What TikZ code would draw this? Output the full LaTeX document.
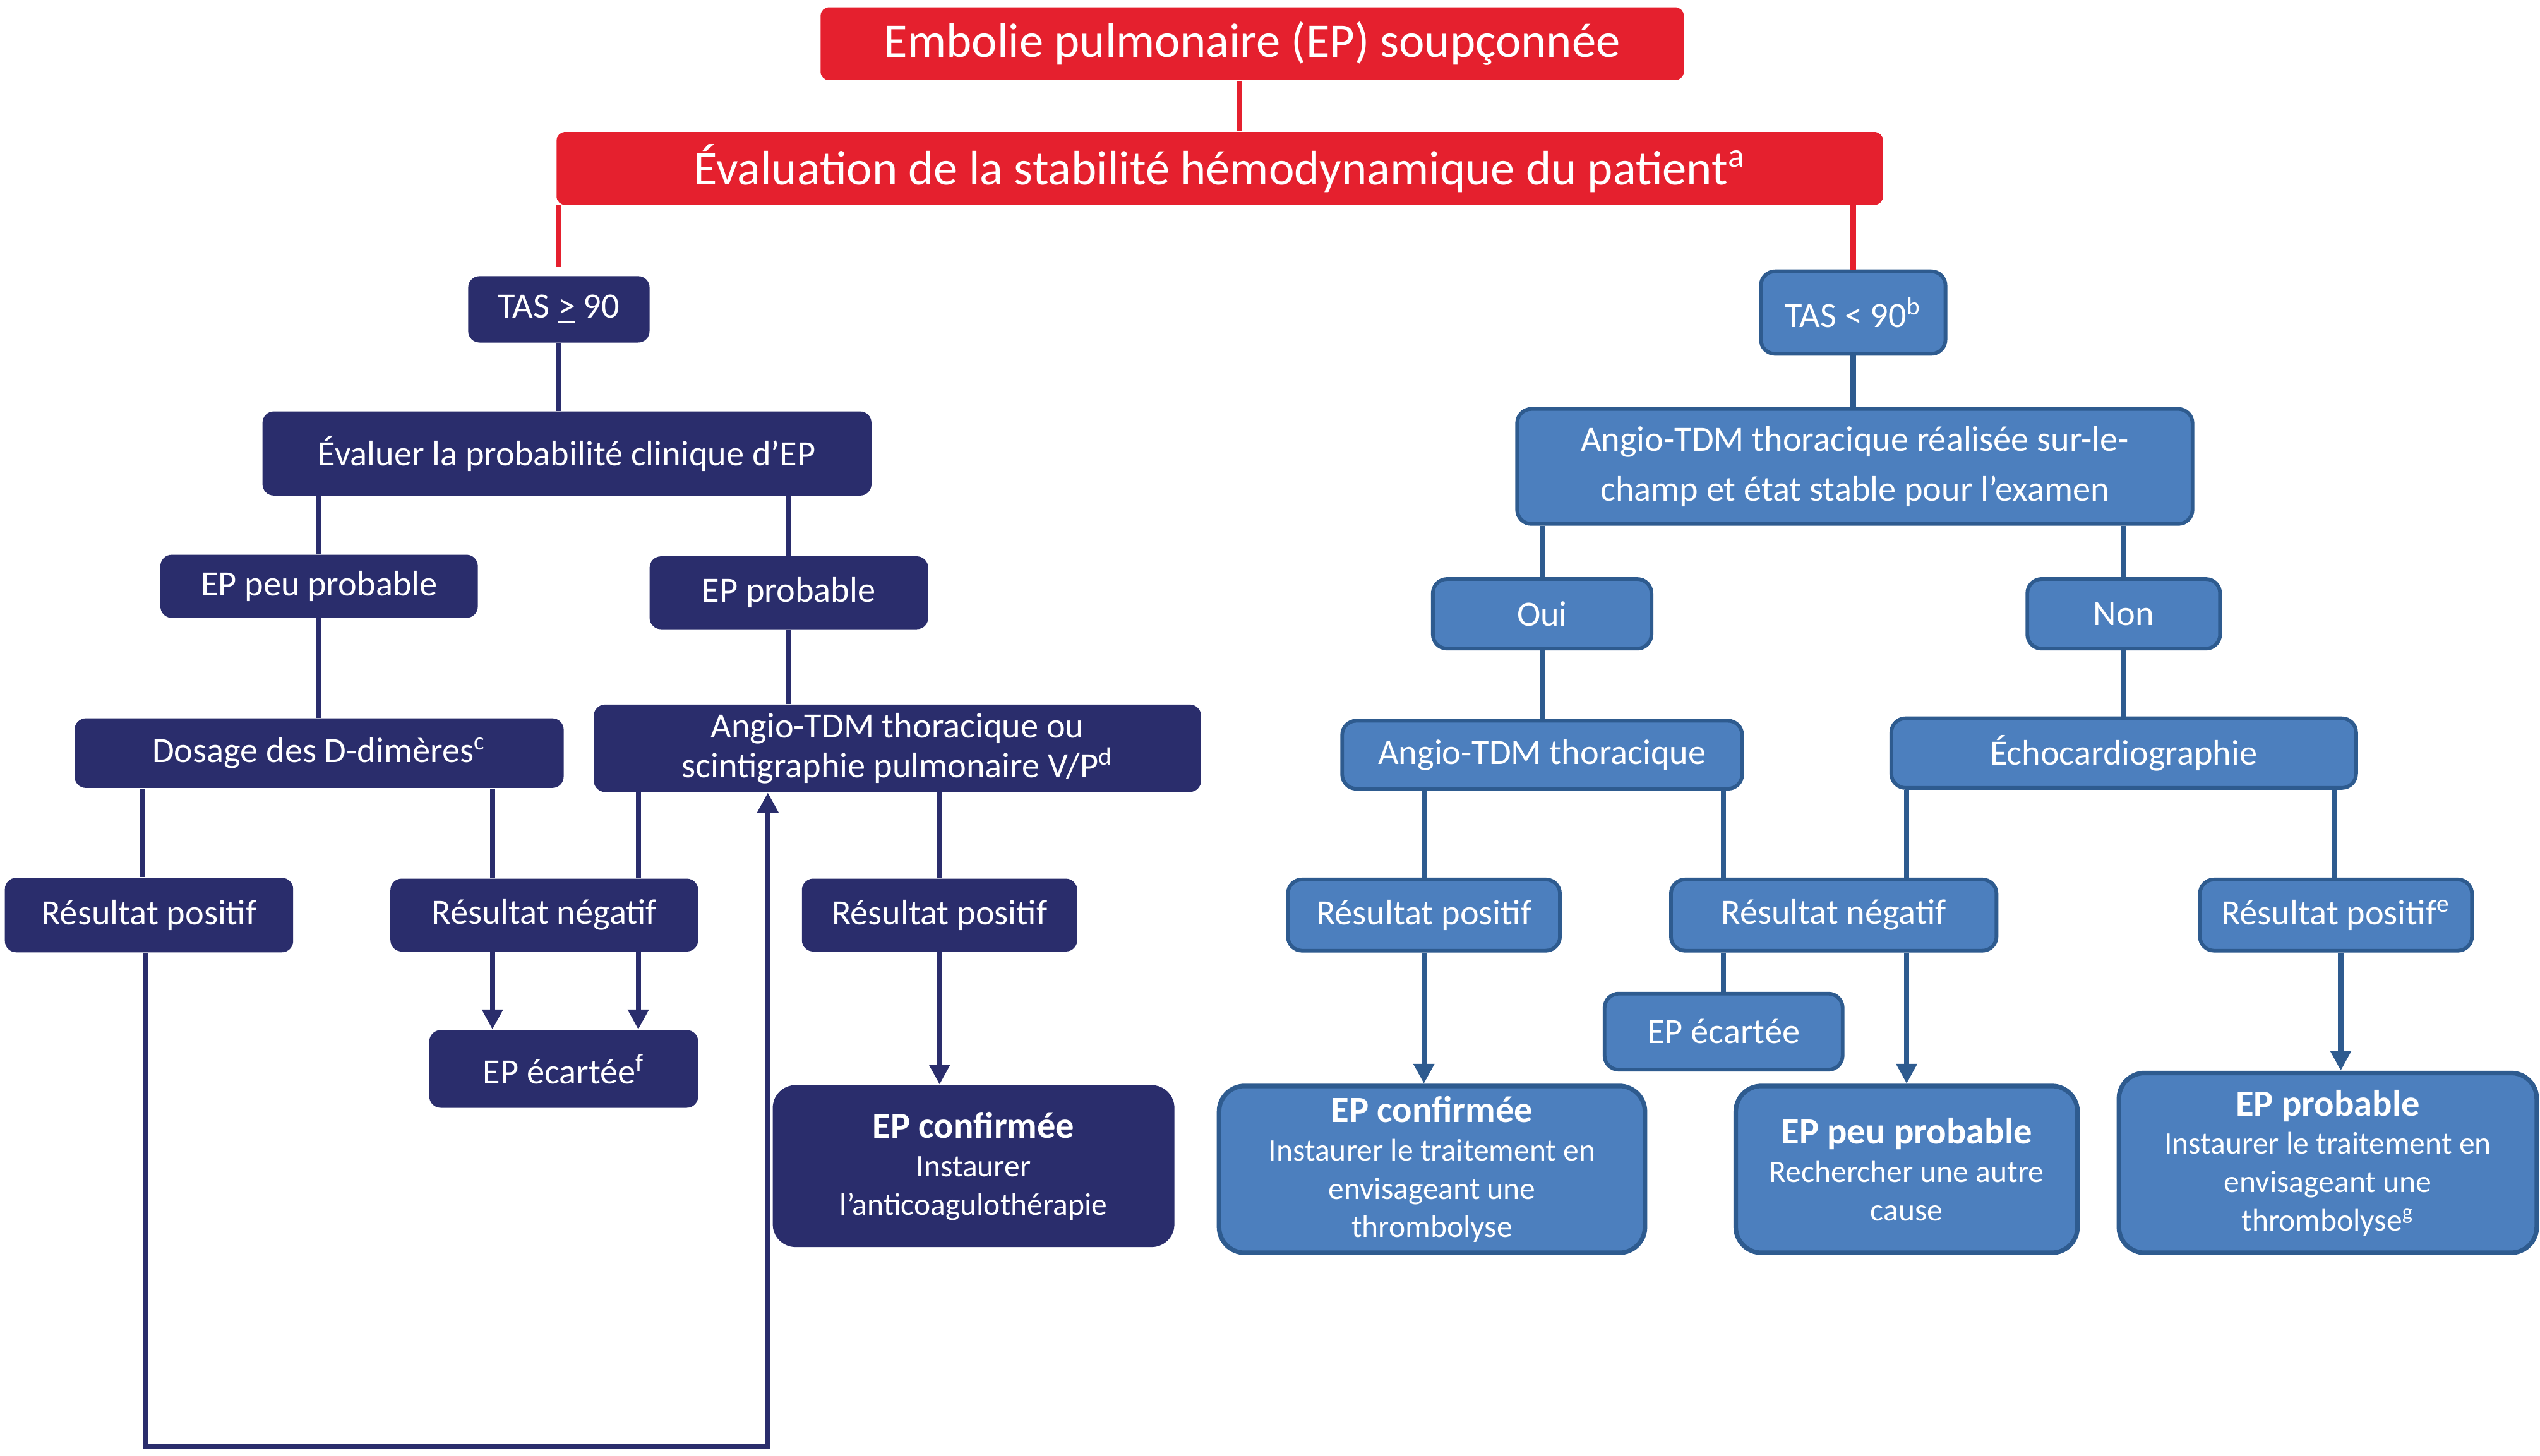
\documentclass[tikz,border=0pt]{standalone}
\usepackage{fontspec}
\setmainfont{Carlito}
\usetikzlibrary{arrows.meta}
\definecolor{epred}{HTML}{E5202E}
\definecolor{epnavy}{HTML}{2A2D6C}
\definecolor{eplight}{HTML}{4C7FBE}
\definecolor{epedge}{HTML}{2E5B8F}
\begin{document}
\begin{tikzpicture}[x=0.02cm, y=-0.02cm,
    redbox/.style={fill=epred, text=white, rounded corners=3pt, inner sep=1pt, align=center, font=\fontsize{17}{20}\selectfont},
    navybox/.style={fill=epnavy, text=white, rounded corners=4pt, inner sep=1pt, align=center, font=\fontsize{12.5}{15}\selectfont},
    lightbox/.style={fill=eplight, draw=epedge, line width=1.3pt, text=white, rounded corners=5pt, inner sep=1pt, align=center, font=\fontsize{12.5}{15}\selectfont},
    endbox/.style={lightbox, rounded corners=9pt, line width=1.6pt, font=\fontsize{11}{13.5}\selectfont},
    navyline/.style={draw=epnavy, line width=1.8pt},
    lightline/.style={draw=epedge, line width=1.8pt},
    redline/.style={draw=epred, line width=1.8pt},
    navyarrow/.style={navyline, -{Triangle[length=7pt, width=7pt]}},
    lightarrow/.style={lightline, -{Triangle[length=7pt, width=7pt]}}
]
\useasboundingbox (0,0) rectangle (1568,899);

% Top
\node[redbox, minimum width=10.66cm, minimum height=0.9cm] (suspect) at (773,27) {Embolie pulmonaire (EP) soupçonnée};
\node[redbox, minimum width=16.38cm, minimum height=0.9cm] (stab) at (753,104) {Évaluation de la stabilité hémodynamique du patient\textsuperscript{a}};

% Left branch
\node[navybox, minimum width=2.24cm, minimum height=0.82cm] (tasA) at (345,191) {TAS \underline{>} 90};
\node[navybox, minimum width=7.52cm, minimum height=1.04cm] (proba) at (350,280) {Évaluer la probabilité clinique d’EP};
\node[navybox, minimum width=3.92cm, minimum height=0.78cm] (peuL) at (197,362) {EP peu probable};
\node[navybox, minimum width=3.44cm, minimum height=0.9cm] (probL) at (487,366) {EP probable};
\node[navybox, minimum width=6.04cm, minimum height=0.86cm] (dimer) at (197,465) {Dosage des D-dimères\textsuperscript{c}};
\node[navybox, minimum width=7.5cm, minimum height=1.08cm, font=\fontsize{12.5}{14}\selectfont] (angioL) at (554,462) {Angio-TDM thoracique ou\\scintigraphie pulmonaire V/P\textsuperscript{d}};
\node[navybox, minimum width=3.56cm, minimum height=0.92cm] (posA) at (92,565) {Résultat positif};
\node[navybox, minimum width=3.8cm, minimum height=0.9cm] (negA) at (336,565) {Résultat négatif};
\node[navybox, minimum width=3.4cm, minimum height=0.9cm] (posB) at (580,565) {Résultat positif};
\node[navybox, minimum width=3.32cm, minimum height=0.96cm] (ecartL) at (348,660) {EP écartée\textsuperscript{f}};
\node[navybox, minimum width=4.96cm, minimum height=2cm, rounded corners=8pt, font=\fontsize{11}{13.5}\selectfont] (confL) at (601,720) {{\fontsize{13}{16}\selectfont\bfseries EP confirmée}\\Instaurer\\l’anticoagulothérapie};
\coordinate (loopA) at (90,893);
\coordinate (loopB) at (474,893);

% Right branch
\node[lightbox, minimum width=2.28cm, minimum height=1.02cm] (tasB) at (1144,193) {TAS < 90\textsuperscript{b}};
\node[lightbox, minimum width=8.34cm, minimum height=1.42cm, font=\fontsize{12.5}{17.5}\selectfont] (angioR) at (1145,288) {Angio-TDM thoracique réalisée sur-le-\\champ et état stable pour l’examen};
\node[lightbox, minimum width=2.7cm, minimum height=0.86cm] (oui) at (952,379) {Oui};
\node[lightbox, minimum width=2.38cm, minimum height=0.86cm] (non) at (1311,379) {Non};
\node[lightbox, minimum width=4.94cm, minimum height=0.84cm] (angioT) at (952,466) {Angio-TDM thoracique};
\node[lightbox, minimum width=5.74cm, minimum height=0.86cm] (echo) at (1311,465) {Échocardiographie};
\node[lightbox, minimum width=3.36cm, minimum height=0.88cm] (posC) at (879,565) {Résultat positif};
\node[lightbox, minimum width=4.02cm, minimum height=0.88cm] (negB) at (1132,565) {Résultat négatif};
\node[lightbox, minimum width=3.36cm, minimum height=0.88cm] (posE) at (1442,565) {Résultat positif\textsuperscript{e}};
\node[lightbox, minimum width=2.94cm, minimum height=0.94cm] (ecartR) at (1064,637) {EP écartée};
\node[endbox, minimum width=5.26cm, minimum height=2.06cm] (confR) at (884,722) {{\fontsize{13}{16}\selectfont\bfseries EP confirmée}\\Instaurer le traitement en\\envisageant une\\thrombolyse};
\node[endbox, minimum width=4.22cm, minimum height=2.06cm] (peuR) at (1177,722) {{\fontsize{13}{16}\selectfont\bfseries EP peu probable}\\Rechercher une autre\\cause};
\node[endbox, minimum width=5.16cm, minimum height=2.22cm] (probR) at (1437,718) {{\fontsize{13}{16}\selectfont\bfseries EP probable}\\Instaurer le traitement en\\envisageant une\\thrombolyse\textsuperscript{g}};

% Connections
\draw[redline] ([xshift=-0.16cm]suspect.south) -- ([xshift=-0.16cm]suspect.south |- stab.north);
\draw[redline] (stab.south -| tasA) -- ++(0,38);
\draw[redline] (stab.south -| tasB) -- ++(0,40);
\draw[navyline] (tasA) ++(0,-21) ++(0,42) -- (tasA.south |- proba.north);
\draw[navyline] (proba.south -| peuL) -- (peuL.north);
\draw[navyline] (proba.south -| probL) -- (probL.north);
\draw[navyline] (peuL.south) -- (dimer.north);
\draw[navyline] (probL.south) -- (probL.south |- angioL.north);
\draw[navyline] ([xshift=-2.18cm]dimer.south) -- ([xshift=-2.18cm]dimer.south |- posA.north);
\draw[navyline] (dimer.south -| 304,0) -- (negA.north -| 304,0);
\draw[navyline] (angioL.south -| 394,0) -- (negA.north -| 394,0);
\draw[navyarrow] (negA.south -| 304,0) -- (ecartL.north -| 304,0);
\draw[navyarrow] (negA.south -| 394,0) -- (ecartL.north -| 394,0);
\draw[navyline] (angioL.south -| posB) -- (posB.north);
\draw[navyarrow] (posB.south) -- (posB.south |- confL.north);
\draw[navyarrow] (posA.south -| loopA) -- (loopA) -- (loopB) -- (angioL.south -| loopB);

\draw[lightline] (tasB.south) -- (tasB.south |- angioR.north);
\draw[lightline] (angioR.south -| oui) -- (oui.north);
\draw[lightline] (angioR.south -| non) -- (non.north);
\draw[lightline] (oui.south) -- (angioT.north);
\draw[lightline] (non.south) -- (echo.north);
\draw[lightline] (angioT.south -| posC) -- (posC.north);
\draw[lightline] (angioT.south -| ecartR) -- (negB.north -| ecartR);
\draw[lightline] (echo.south -| peuR) -- (negB.north -| peuR);
\draw[lightline] (echo.south -| 1441,0) -- (posE.north -| 1441,0);
\draw[lightline] (negB.south -| ecartR) -- (ecartR.north);
\draw[lightarrow] (posC.south) -- (posC.south |- confR.north);
\draw[lightarrow] (negB.south -| peuR) -- (peuR.north);
\draw[lightarrow] (posE.south -| 1445,0) -- (probR.north -| 1445,0);
\end{tikzpicture}
\end{document}
